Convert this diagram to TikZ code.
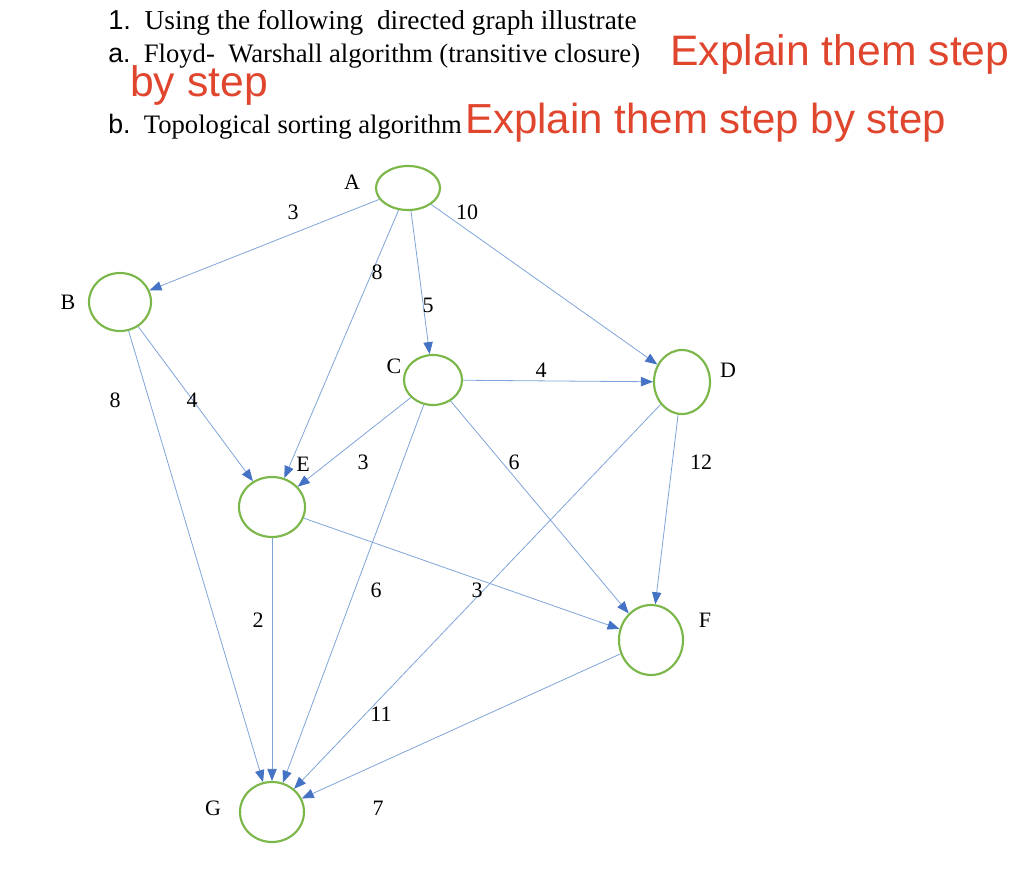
\documentclass[tikz,border=0pt]{standalone}
\usepackage{fontspec}
\setmainfont{Liberation Serif}
\newfontfamily\arial{Liberation Sans}
\usetikzlibrary{arrows.meta,shapes.geometric}
\definecolor{gr}{HTML}{7AB648}
\definecolor{ed}{HTML}{7FA4DA}
\definecolor{ah}{HTML}{4472C4}
\definecolor{rd}{HTML}{E0452E}
\begin{document}
\begin{tikzpicture}[x=0.75pt,y=-0.75pt,
  nd/.style 2 args={draw=gr,line width=1.6pt,inner sep=0pt,shape=ellipse,minimum width=#1*1.5pt,minimum height=#2*1.5pt},
  ed/.style={draw=ed,line width=0.6pt,-{Triangle[length=9pt,width=7pt,fill=ah,color=ah]}},
  lb/.style={font=\fontsize{16.5}{16}\selectfont,inner sep=1pt},
  wt/.style={font=\fontsize{16.5}{16}\selectfont,inner sep=1pt}]
\useasboundingbox (0,0) rectangle (1024,892);
\node[nd={32}{22}] (A) at (408,188) {};
\node[nd={31}{29}] (B) at (120,302) {};
\node[nd={29}{25}] (C) at (433,380) {};
\node[nd={28}{32}] (D) at (682,382) {};
\node[nd={33}{30}] (E) at (272,507) {};
\node[nd={32}{35}] (F) at (651,640) {};
\node[nd={32}{30}] (G) at (272,812) {};
\node[lb] (lA) at (352,182) {A};
\node[lb] (lB) at (68,302) {B};
\node[lb] (lC) at (394,366) {C};
\node[lb] (lD) at (728,370) {D};
\node[lb] (lE) at (303,464) {E};
\node[lb] (lF) at (705,620) {F};
\node[lb] (lG) at (213,808) {G};
\draw[ed] (A) -- (B);
\draw[ed] (A) -- (E);
\draw[ed] (A) -- (C);
\draw[ed] (A) -- (D);
\draw[ed] (B) -- (E);
\draw[ed] (B) -- (G);
\draw[ed] (C) -- (D);
\draw[ed] (C) -- (E);
\draw[ed] (C) -- (F);
\draw[ed] (C) -- (G);
\draw[ed] (D) -- (G);
\draw[ed] (D) -- (F);
\draw[ed] (E) -- (F);
\draw[ed] (E) -- (G);
\draw[ed] (F) -- (G);
\node[wt] (w1) at (293,212) {3};
\node[wt] (w2) at (377,272) {8};
\node[wt] (w3) at (428,305) {5};
\node[wt] (w4) at (467,212) {10};
\node[wt] (w5) at (192,400) {4};
\node[wt] (w6) at (115,400) {8};
\node[wt] (w7) at (541,370) {4};
\node[wt] (w8) at (363,462) {3};
\node[wt] (w9) at (514,462) {6};
\node[wt] (w10) at (376,590) {6};
\node[wt] (w11) at (381,714) {11};
\node[wt] (w12) at (701,462) {12};
\node[wt] (w13) at (477,590) {3};
\node[wt] (w14) at (258,620) {2};
\node[wt] (w15) at (378,808) {7};
\node[anchor=base west,inner sep=0pt,font=\fontsize{20.5}{20}\selectfont] (t1) at (108,30) {{\arial 1.}\ \ Using the following \ directed graph illustrate};
\node[anchor=base west,inner sep=0pt,font=\fontsize{20}{20}\selectfont] (t2) at (108,63) {{\arial a.}\ \ Floyd- \ Warshall algorithm (transitive closure)};
\node[anchor=base west,inner sep=0pt,font=\arial\fontsize{32}{32}\selectfont,text=rd] (t3) at (670,65) {Explain them step};
\node[anchor=base west,inner sep=0pt,font=\arial\fontsize{32}{32}\selectfont,text=rd] (t4) at (130,97) {by step};
\node[anchor=base west,inner sep=0pt,font=\fontsize{20}{20}\selectfont] (t5) at (108,133) {{\arial b.}\ \ Topological sorting algorithm};
\node[anchor=base west,inner sep=0pt,font=\arial\fontsize{31.5}{32}\selectfont,text=rd] (t6) at (465,133) {Explain them step by step};
\end{tikzpicture}
\end{document}
